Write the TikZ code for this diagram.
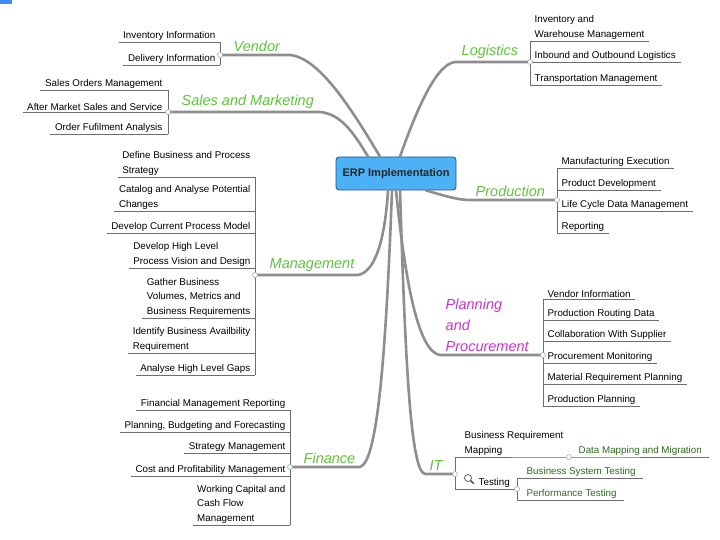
\documentclass[tikz,border=0pt]{standalone}
\usepackage{fontspec}
\setmainfont{Liberation Sans}
\begin{document}
\begin{tikzpicture}[x=1pt,y=-1pt,
 leaf/.style={inner sep=1.5pt,font=\fontsize{9.8}{14.5}\selectfont,align=left},
 subleaf/.style={leaf,text=subgreen},
 leafline/.style={draw=lgray,line width=0.9pt},
 branch/.style={draw=bgray,line width=2.6pt,line cap=round},
 blabel/.style={inner sep=1.5pt,font=\fontsize{14.5}{15}\selectfont\itshape,text=bgreen,align=left},
 joint/.style={circle,draw=jblue,fill=white,line width=0.5pt,inner sep=0pt,minimum size=5pt}]
\definecolor{lgray}{HTML}{6E6E6E}
\definecolor{bgray}{HTML}{8E8E8E}
\definecolor{bgreen}{HTML}{5DC43A}
\definecolor{subgreen}{HTML}{2E6B1E}
\definecolor{jblue}{HTML}{8FA5C0}
\definecolor{pmag}{HTML}{CC33CC}
\definecolor{boxfill}{HTML}{4DB2F5}
\definecolor{boxdraw}{HTML}{1F4E8C}
\useasboundingbox (0,0) rectangle (720,540);
\fill[white] (0,0) rectangle (720,540);
\fill[boxfill!80!blue] (0,0) rectangle (12,4);

% centre
\node[draw=boxdraw,fill=boxfill,rounded corners=3pt,line width=0.8pt,minimum width=120pt,minimum height=33pt,font=\bfseries\fontsize{11}{13}\selectfont,text=black!85] (erp) at (396,173.5) {ERP Implementation};

% branch end coordinates
\coordinate (vE) at (290,55); \coordinate (vJ) at (220,55);
\coordinate (sE) at (320,112); \coordinate (sJ) at (168,112);
\coordinate (mE) at (358,275); \coordinate (mJ) at (255,275);
\coordinate (fE) at (360,467); \coordinate (fJ) at (290,467);
\coordinate (lE) at (455,62); \coordinate (lJ) at (530,62);
\coordinate (pE) at (470,200); \coordinate (pJ) at (557,200);
\coordinate (qE) at (440,355); \coordinate (qJ) at (543,355);
\coordinate (iE) at (425,474); \coordinate (iJ) at (455,474);

% curves
\draw[branch] ([xshift=-16pt]erp.north) .. controls (352,110) and (320,58) .. (vE) -- (vJ);
\draw[branch] ([xshift=-28pt]erp.north) .. controls (352,130) and (340,114) .. (sE) -- (sJ);
\draw[branch] ([xshift=4pt]erp.north) .. controls (420,100) and (438,64) .. (lE) -- (lJ);
\draw[branch] ([xshift=30pt]erp.south) .. controls (445,196) and (458,200) .. (pE) -- (pJ);
\draw[branch] ([xshift=-8pt]erp.south) .. controls (385,240) and (375,272) .. (mE) -- (mJ);
\draw[branch] ([xshift=-4pt]erp.south) .. controls (386,350) and (378,462) .. (fE) -- (fJ);
\draw[branch] ([xshift=0pt]erp.south) .. controls (405,280) and (418,352) .. (qE) -- (qJ);
\draw[branch] ([xshift=4pt]erp.south) .. controls (405,350) and (410,472) .. (iE) -- (iJ);

% branch labels
\node[blabel,anchor=south west] (vendor) at (232,53) {Vendor};
\node[blabel,anchor=south west] (sales) at (180,110) {Sales and Marketing};
\node[blabel,anchor=south west] (mgmt) at (268,273) {Management};
\node[blabel,anchor=south west] (fin) at (302,465) {Finance};
\node[blabel,anchor=south west] (logi) at (460,60) {Logistics};
\node[blabel,anchor=south west] (prod) at (474,198) {Production};
\node[blabel,anchor=south west,text=pmag,font=\fontsize{14.5}{21}\selectfont\itshape] (plan) at (444,353) {Planning\\and\\Procurement};
\node[blabel,anchor=south west] (it) at (428,472) {IT};

% ---- Vendor leaves
\node[leaf,anchor=south east] (v1) at (217,42) {Inventory Information};
\node[leaf,anchor=south east] (v2) at (217,65) {Delivery Information};
\foreach \n in {v1,v2} \draw[leafline] ([xshift=-3pt]\n.south west) -- ([xshift=3pt]\n.south east);
\draw[leafline] (v1.south east) ++(3,0) -- ([xshift=3pt]v2.south east);
\node[joint] (vj) at (vJ) {};

% ---- Sales leaves
\node[leaf,anchor=south east] (s1) at (164,90) {Sales Orders Management};
\node[leaf,anchor=south east] (s2) at (164,112) {After Market Sales and Service};
\node[leaf,anchor=south east] (s3) at (164,134) {Order Fufilment Analysis};
\foreach \n in {s1,s2,s3} \draw[leafline] ([xshift=-3pt]\n.south west) -- ([xshift=4pt]\n.south east);
\draw[leafline] ([xshift=4pt]s1.south east) -- ([xshift=4pt]s3.south east);
\node[joint] (sj) at (sJ) {};

% ---- Management leaves
\node[leaf,anchor=south east] (m1) at (252,177) {Define Business and Process\\Strategy};
\node[leaf,anchor=south east] (m2) at (252,211) {Catalog and Analyse Potential\\Changes};
\node[leaf,anchor=south east] (m3) at (252,233) {Develop Current Process Model};
\node[leaf,anchor=south east] (m4) at (252,268) {Develop High Level\\Process Vision and Design};
\node[leaf,anchor=south east] (m5) at (252,318) {Gather Business\\Volumes, Metrics and\\Business Requirements};
\node[leaf,anchor=south east] (m6) at (252,353) {Identify Business Availbility\\Requirement};
\node[leaf,anchor=south east] (m7) at (252,375) {Analyse High Level Gaps};
\foreach \n in {m1,m2,m3,m4,m5,m6,m7} \draw[leafline] ([xshift=-3pt]\n.south west) -- ([xshift=3pt]\n.south east);
\draw[leafline] ([xshift=3pt]m1.south east) -- ([xshift=3pt]m7.south east);
\node[joint] (mj) at (mJ) {};

% ---- Finance leaves
\node[leaf,anchor=south east] (f1) at (287,410) {Financial Management Reporting};
\node[leaf,anchor=south east] (f2) at (287,432) {Planning, Budgeting and Forecasting};
\node[leaf,anchor=south east] (f3) at (287,453) {Strategy Management};
\node[leaf,anchor=south east] (f4) at (287,476) {Cost and Profitability Management};
\node[leaf,anchor=south east] (f5) at (287,525) {Working Capital and\\Cash Flow\\Management};
\foreach \n in {f1,f2,f3,f4,f5} \draw[leafline] ([xshift=-3pt]\n.south west) -- ([xshift=3pt]\n.south east);
\draw[leafline] ([xshift=3pt]f1.south east) -- ([xshift=3pt]f5.south east);
\node[joint] (fj) at (fJ) {};

% ---- Logistics leaves
\node[leaf,anchor=south west] (l1) at (533,41) {Inventory and\\Warehouse Management};
\node[leaf,anchor=south west] (l2) at (533,62) {Inbound and Outbound Logistics};
\node[leaf,anchor=south west] (l3) at (533,85) {Transportation Management};
\foreach \n in {l1,l2,l3} \draw[leafline] ([xshift=-3pt]\n.south west) -- ([xshift=3pt]\n.south east);
\draw[leafline] ([xshift=-3pt]l1.south west) -- ([xshift=-3pt]l3.south west);
\node[joint] (lj) at (lJ) {};

% ---- Production leaves
\node[leaf,anchor=south west] (p1) at (560,168) {Manufacturing Execution};
\node[leaf,anchor=south west] (p2) at (560,190) {Product Development};
\node[leaf,anchor=south west] (p3) at (560,211) {Life Cycle Data Management};
\node[leaf,anchor=south west] (p4) at (560,233) {Reporting};
\foreach \n in {p1,p2,p3,p4} \draw[leafline] ([xshift=-3pt]\n.south west) -- ([xshift=3pt]\n.south east);
\draw[leafline] ([xshift=-3pt]p1.south west) -- ([xshift=-3pt]p4.south west);
\node[joint] (pj) at (pJ) {};

% ---- Planning leaves
\node[leaf,anchor=south west] (q1) at (546,299) {Vendor Information};
\node[leaf,anchor=south west] (q2) at (546,320) {Production Routing Data};
\node[leaf,anchor=south west] (q3) at (546,341) {Collaboration With Supplier};
\node[leaf,anchor=south west] (q4) at (546,363) {Procurement Monitoring};
\node[leaf,anchor=south west] (q5) at (546,384) {Material Requirement Planning};
\node[leaf,anchor=south west] (q6) at (546,406) {Production Planning};
\foreach \n in {q1,q2,q3,q4,q5,q6} \draw[leafline] ([xshift=-3pt]\n.south west) -- ([xshift=3pt]\n.south east);
\draw[leafline] ([xshift=-3pt]q1.south west) -- ([xshift=-3pt]q6.south west);
\node[joint] (qj) at (qJ) {};

% ---- IT leaves
\node[leaf,anchor=south west] (i1) at (463,457) {Business Requirement\\Mapping};
\node[leaf,anchor=south west] (i2) at (477,489) {Testing};
\node[draw=black!70,circle,line width=0.7pt,minimum size=7pt,inner sep=0pt] (mag) at (468,478) {};
\draw[black!80,line width=1.4pt] (mag.south east) -- ++(3,3);
\coordinate (d1J) at (569,457);
\coordinate (d2J) at (517,489);
\node[subleaf,anchor=south west] (d1) at (577,457) {Data Mapping and Migration};
\node[subleaf,anchor=south west] (t1) at (525,478) {Business System Testing};
\node[subleaf,anchor=south west] (t2) at (525,500) {Performance Testing};
\draw[leafline,rounded corners=3pt] (i1.south west -| iJ) -- (d1J) -- ([xshift=5pt]d1.south east);
\draw[leafline] (iJ |- i1.south) -- (iJ |- i2.south);
\draw[leafline] (iJ |- i2.south) -- (d2J);
\draw[leafline] ([xshift=-8pt]t1.south west) -- ([xshift=6pt]t1.south east);
\draw[leafline] ([xshift=-8pt]t2.south west) -- ([xshift=6pt]t2.south east);
\draw[leafline] ([xshift=-8pt]t1.south west) -- ([xshift=-8pt]t2.south west);
\node[joint] (ij) at (iJ) {};
\node[joint] (dj1) at (d1J) {};
\node[joint] (dj2) at (d2J) {};
\end{tikzpicture}
\end{document}
